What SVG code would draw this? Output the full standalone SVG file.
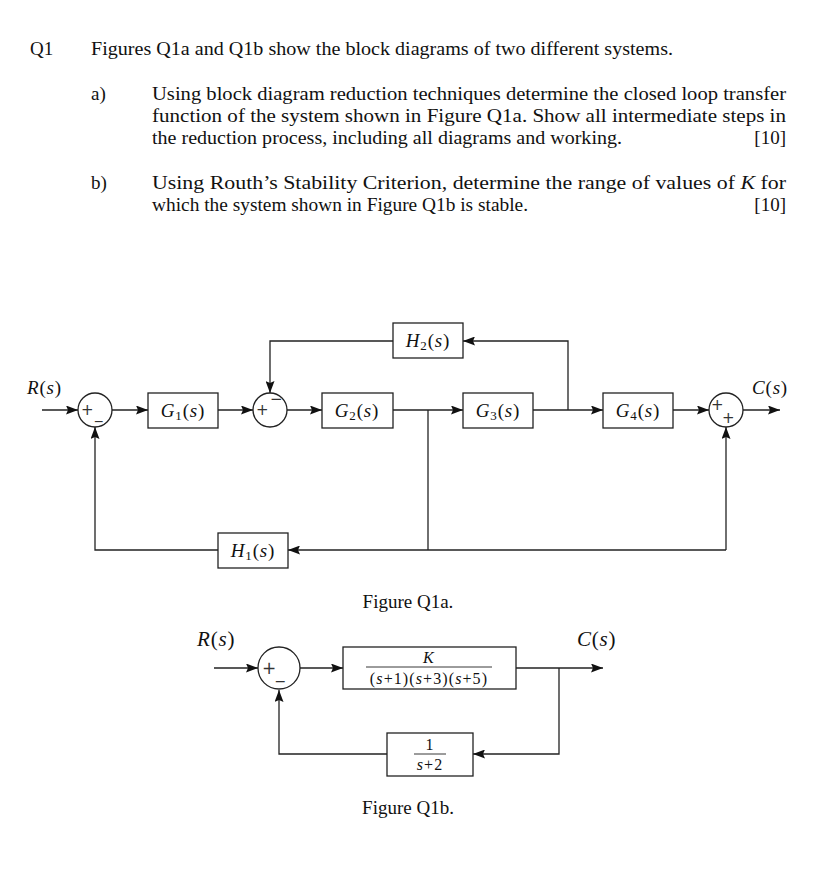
<svg xmlns="http://www.w3.org/2000/svg" width="821" height="892" viewBox="0 0 821 892">
<defs>
<marker id="ah" viewBox="0 0 12 9" refX="12" refY="4.5" markerWidth="12" markerHeight="9" markerUnits="userSpaceOnUse" orient="auto">
<path d="M0,0 L12,4.5 L0,9 L2,4.5 Z" fill="#111"/>
</marker>
</defs>
<style>
.t{font-family:"Liberation Serif","Times New Roman",serif;font-size:19px;fill:#111}
.m{font-family:"Liberation Serif","DejaVu Serif",serif;font-style:italic;font-size:19px;fill:#111;letter-spacing:0.8px}
.mb{font-size:21px}
.up{font-style:normal}
.sb{font-size:13px;font-style:normal}
.sg{font-family:"DejaVu Sans","Liberation Sans",sans-serif;font-size:15px;fill:#333}
.sgb{font-size:17px}
.blk{fill:#fff;stroke:#222;stroke-width:1.3}
.sum{fill:#fff;stroke:#222;stroke-width:1.3}
.c{fill:none;stroke:#222;stroke-width:1.3}
.a{marker-end:url(#ah)}
.fr{font-family:"Liberation Serif","DejaVu Serif",serif;font-size:16px;fill:#111;letter-spacing:1.1px}
</style>
<rect width="821" height="892" fill="#fff"/>
<g id="question-text">
<text class="t" x="30" y="55">Q1</text>
<text class="t" x="91" y="55" textLength="582" lengthAdjust="spacingAndGlyphs">Figures Q1a and Q1b show the block diagrams of two different systems.</text>
<text class="t" x="91" y="100">a)</text>
<text class="t" x="152" y="100" textLength="634" lengthAdjust="spacingAndGlyphs">Using block diagram reduction techniques determine the closed loop transfer</text>
<text class="t" x="152" y="122" textLength="634" lengthAdjust="spacingAndGlyphs">function of the system shown in Figure Q1a. Show all intermediate steps in</text>
<text class="t" x="152" y="144" textLength="470" lengthAdjust="spacingAndGlyphs">the reduction process, including all diagrams and working.</text>
<text class="t" x="786" y="144" text-anchor="end">[10]</text>
<text class="t" x="91" y="189">b)</text>
<text class="t" x="152" y="189" textLength="634" lengthAdjust="spacingAndGlyphs">Using Routh’s Stability Criterion, determine the range of values of <tspan font-style="italic">K</tspan> for</text>
<text class="t" x="152" y="211" textLength="376" lengthAdjust="spacingAndGlyphs">which the system shown in Figure Q1b is stable.</text>
<text class="t" x="786" y="211" text-anchor="end">[10]</text>
</g>
<g id="connectors-q1a">
<path class="c a" d="M42,410 H78"/>
<path class="c a" d="M112,410 H148"/>
<path class="c a" d="M218,410 H253"/>
<path class="c a" d="M287,410 H322"/>
<path class="c a" d="M393,410 H463"/>
<path class="c a" d="M533,410 H603"/>
<path class="c a" d="M673,410 H709"/>
<path class="c a" d="M743,410 H780"/>
<path class="c a" d="M568,410 V341 H463"/>
<path class="c a" d="M393,341 H270 V393"/>
<path class="c" d="M428,410 V550"/>
<path class="c a" d="M726,550 V427"/>
<path class="c a" d="M726,550 H288"/>
<path class="c a" d="M218,550 H95 V427"/>
</g>
<g id="labels-q1a">
<text class="m" x="27" y="394">R<tspan class="up">(</tspan>s<tspan class="up">)</tspan></text>
<text class="m" x="752" y="394">C<tspan class="up">(</tspan>s<tspan class="up">)</tspan></text>
</g>
<g id="sum1"><circle class="sum" cx="95" cy="410" r="17"/><text class="sg" x="81" y="415">+</text><text class="sg" x="95" y="418">_</text></g>
<g id="G1"><rect class="blk" x="148" y="393" width="70" height="35"/><text class="m" x="183" y="417" text-anchor="middle">G<tspan class="sb" dy="3">1</tspan><tspan class="up" dy="-3">(</tspan>s<tspan class="up">)</tspan></text></g>
<g id="sum2"><circle class="sum" cx="270" cy="410" r="17"/><text class="sg" x="256" y="415">+</text><text class="sg" x="270" y="404">−</text></g>
<g id="G2"><rect class="blk" x="322" y="393" width="71" height="35"/><text class="m" x="357" y="417" text-anchor="middle">G<tspan class="sb" dy="3">2</tspan><tspan class="up" dy="-3">(</tspan>s<tspan class="up">)</tspan></text></g>
<g id="H2"><rect class="blk" x="393" y="323" width="70" height="35"/><text class="m" x="428" y="347" text-anchor="middle">H<tspan class="sb" dy="3">2</tspan><tspan class="up" dy="-3">(</tspan>s<tspan class="up">)</tspan></text></g>
<g id="G3"><rect class="blk" x="463" y="393" width="70" height="35"/><text class="m" x="498" y="417" text-anchor="middle">G<tspan class="sb" dy="3">3</tspan><tspan class="up" dy="-3">(</tspan>s<tspan class="up">)</tspan></text></g>
<g id="G4"><rect class="blk" x="603" y="393" width="70" height="35"/><text class="m" x="638" y="417" text-anchor="middle">G<tspan class="sb" dy="3">4</tspan><tspan class="up" dy="-3">(</tspan>s<tspan class="up">)</tspan></text></g>
<g id="sum3"><circle class="sum" cx="726" cy="410" r="17"/><text class="sg" x="711" y="410">+</text><text class="sg" x="722" y="423">+</text></g>
<g id="H1"><rect class="blk" x="218" y="533" width="70" height="35"/><text class="m" x="253" y="557" text-anchor="middle">H<tspan class="sb" dy="3">1</tspan><tspan class="up" dy="-3">(</tspan>s<tspan class="up">)</tspan></text></g>
<text class="t" x="408" y="608" text-anchor="middle">Figure Q1a.</text>
<g id="connectors-q1b">
<path class="c a" d="M214,668 H258"/>
<path class="c a" d="M300,668 H343"/>
<path class="c a" d="M516,668 H603"/>
<path class="c a" d="M559,668 V754 H473"/>
<path class="c a" d="M387,754 H279 V690"/>
</g>
<g id="labels-q1b">
<text class="m mb" x="197" y="646">R<tspan class="up">(</tspan>s<tspan class="up">)</tspan></text>
<text class="m mb" x="577" y="646">C<tspan class="up">(</tspan>s<tspan class="up">)</tspan></text>
</g>
<g id="sumb"><circle class="sum" cx="279" cy="668" r="21"/><text class="sg sgb" x="262" y="674">+</text><text class="sg sgb" x="276" y="678">_</text></g>
<g id="plant"><rect class="blk" x="343" y="647" width="173" height="42"/>
<text class="fr" x="429" y="663" text-anchor="middle" font-style="italic">K</text>
<line x1="366" y1="667" x2="492" y2="667" stroke="#222" stroke-width="0.9"/>
<text class="fr" x="429" y="684" text-anchor="middle">(<tspan font-style="italic">s</tspan>+1)(<tspan font-style="italic">s</tspan>+3)(<tspan font-style="italic">s</tspan>+5)</text></g>
<g id="feedback"><rect class="blk" x="387" y="733" width="86" height="43"/>
<text class="fr" x="430" y="750" text-anchor="middle">1</text>
<line x1="414" y1="754" x2="446" y2="754" stroke="#222" stroke-width="0.9"/>
<text class="fr" x="430" y="770" text-anchor="middle"><tspan font-style="italic">s</tspan>+2</text></g>
<text class="t" x="408" y="814" text-anchor="middle">Figure Q1b.</text>
</svg>
